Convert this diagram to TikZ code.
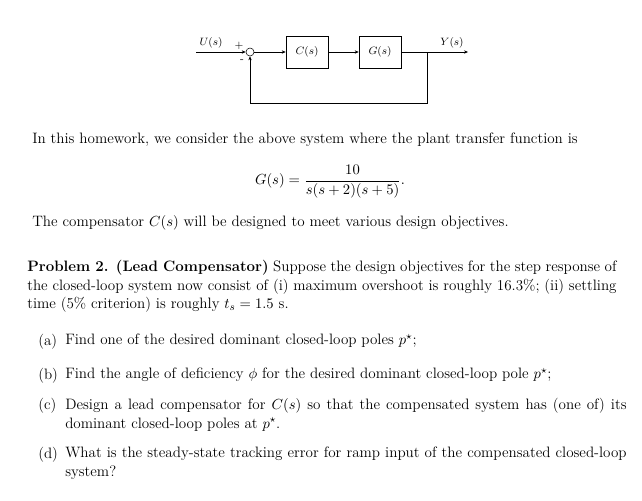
\documentclass[tikz,border=0pt]{standalone}
\usepackage{amsmath}
\usetikzlibrary{arrows.meta}
\begin{document}
\begin{tikzpicture}[x=0.75pt,y=-0.75pt,
  blk/.style={draw,minimum width=31.5pt,minimum height=24pt,inner sep=0pt,font=\fontsize{8.5}{10}\selectfont},
  sig/.style={-{Stealth[length=3pt,width=2.5pt]}},
  lbl/.style={font=\fontsize{8}{10}\selectfont},
  tf/.style={font=\fontsize{11.3}{13.9}\selectfont},
  para/.style={tf,anchor=north west,inner sep=0pt,text width=442pt,align=justify},
  itm/.style={tf,anchor=north west,inner sep=0pt,text width=421pt,align=justify}]
\useasboundingbox (0,0) rectangle (642,500);
\coordinate (in) at (196,52);
\node[draw,circle,minimum size=6pt,inner sep=0pt] (sum) at (250,52) {};
\node[blk] (C) at (307,52) {$C(s)$};
\node[blk] (G) at (380,52) {$G(s)$};
\coordinate (br) at (427,52);
\coordinate (out) at (468,52);
\coordinate (fb1) at (427,103);
\coordinate (fb2) at (250,103);
\draw[sig] (in) -- (sum);
\draw[sig] (sum) -- (C);
\draw[sig] (C) -- (G);
\draw[sig] (G) -- (out);
\draw[sig] (br) -- (fb1) -- (fb2) -- (sum);
\node[lbl] (u) at (211,43) {$U(s)$};
\node[lbl] (y) at (452,43) {$Y(s)$};
\node[lbl] (p) at (239,46) {$+$};
\node[lbl] (m) at (242,61) {-};
\node[para] (t1) at (32,133) {In this homework, we consider the above system where the plant transfer function is};
\node[tf,anchor=center,inner sep=0pt] (eq) at (330,182) {$\displaystyle G(s)=\frac{10}{s(s+2)(s+5)}.$};
\node[para] (t2) at (32,215) {The compensator $C(s)$ will be designed to meet various design objectives.};
\node[para] (t3) at (27,260) {\textbf{Problem 2. (Lead Compensator)} Suppose the design objectives for the step response of the closed-loop system now consist of (i) maximum overshoot is roughly 16.3\%; (ii) settling time (5\% criterion) is roughly $t_s=1.5$~s.};
\node[tf,anchor=north west,inner sep=0pt] (la) at (38,334) {(a)};
\node[itm] (a) at (65,334) {Find one of the desired dominant closed-loop poles $p^\star$;};
\node[tf,anchor=north west,inner sep=0pt] (lb) at (38,368) {(b)};
\node[itm] (b) at (65,368) {Find the angle of deficiency $\phi$ for the desired dominant closed-loop pole $p^\star$;};
\node[tf,anchor=north west,inner sep=0pt] (lc) at (38,398) {(c)};
\node[itm] (c) at (65,398) {Design a lead compensator for $C(s)$ so that the compensated system has (one of) its dominant closed-loop poles at $p^\star$.};
\node[tf,anchor=north west,inner sep=0pt] (ld) at (38,447) {(d)};
\node[itm] (d) at (65,447) {What is the steady-state tracking error for ramp input of the compensated closed-loop system?};
\end{tikzpicture}
\end{document}
